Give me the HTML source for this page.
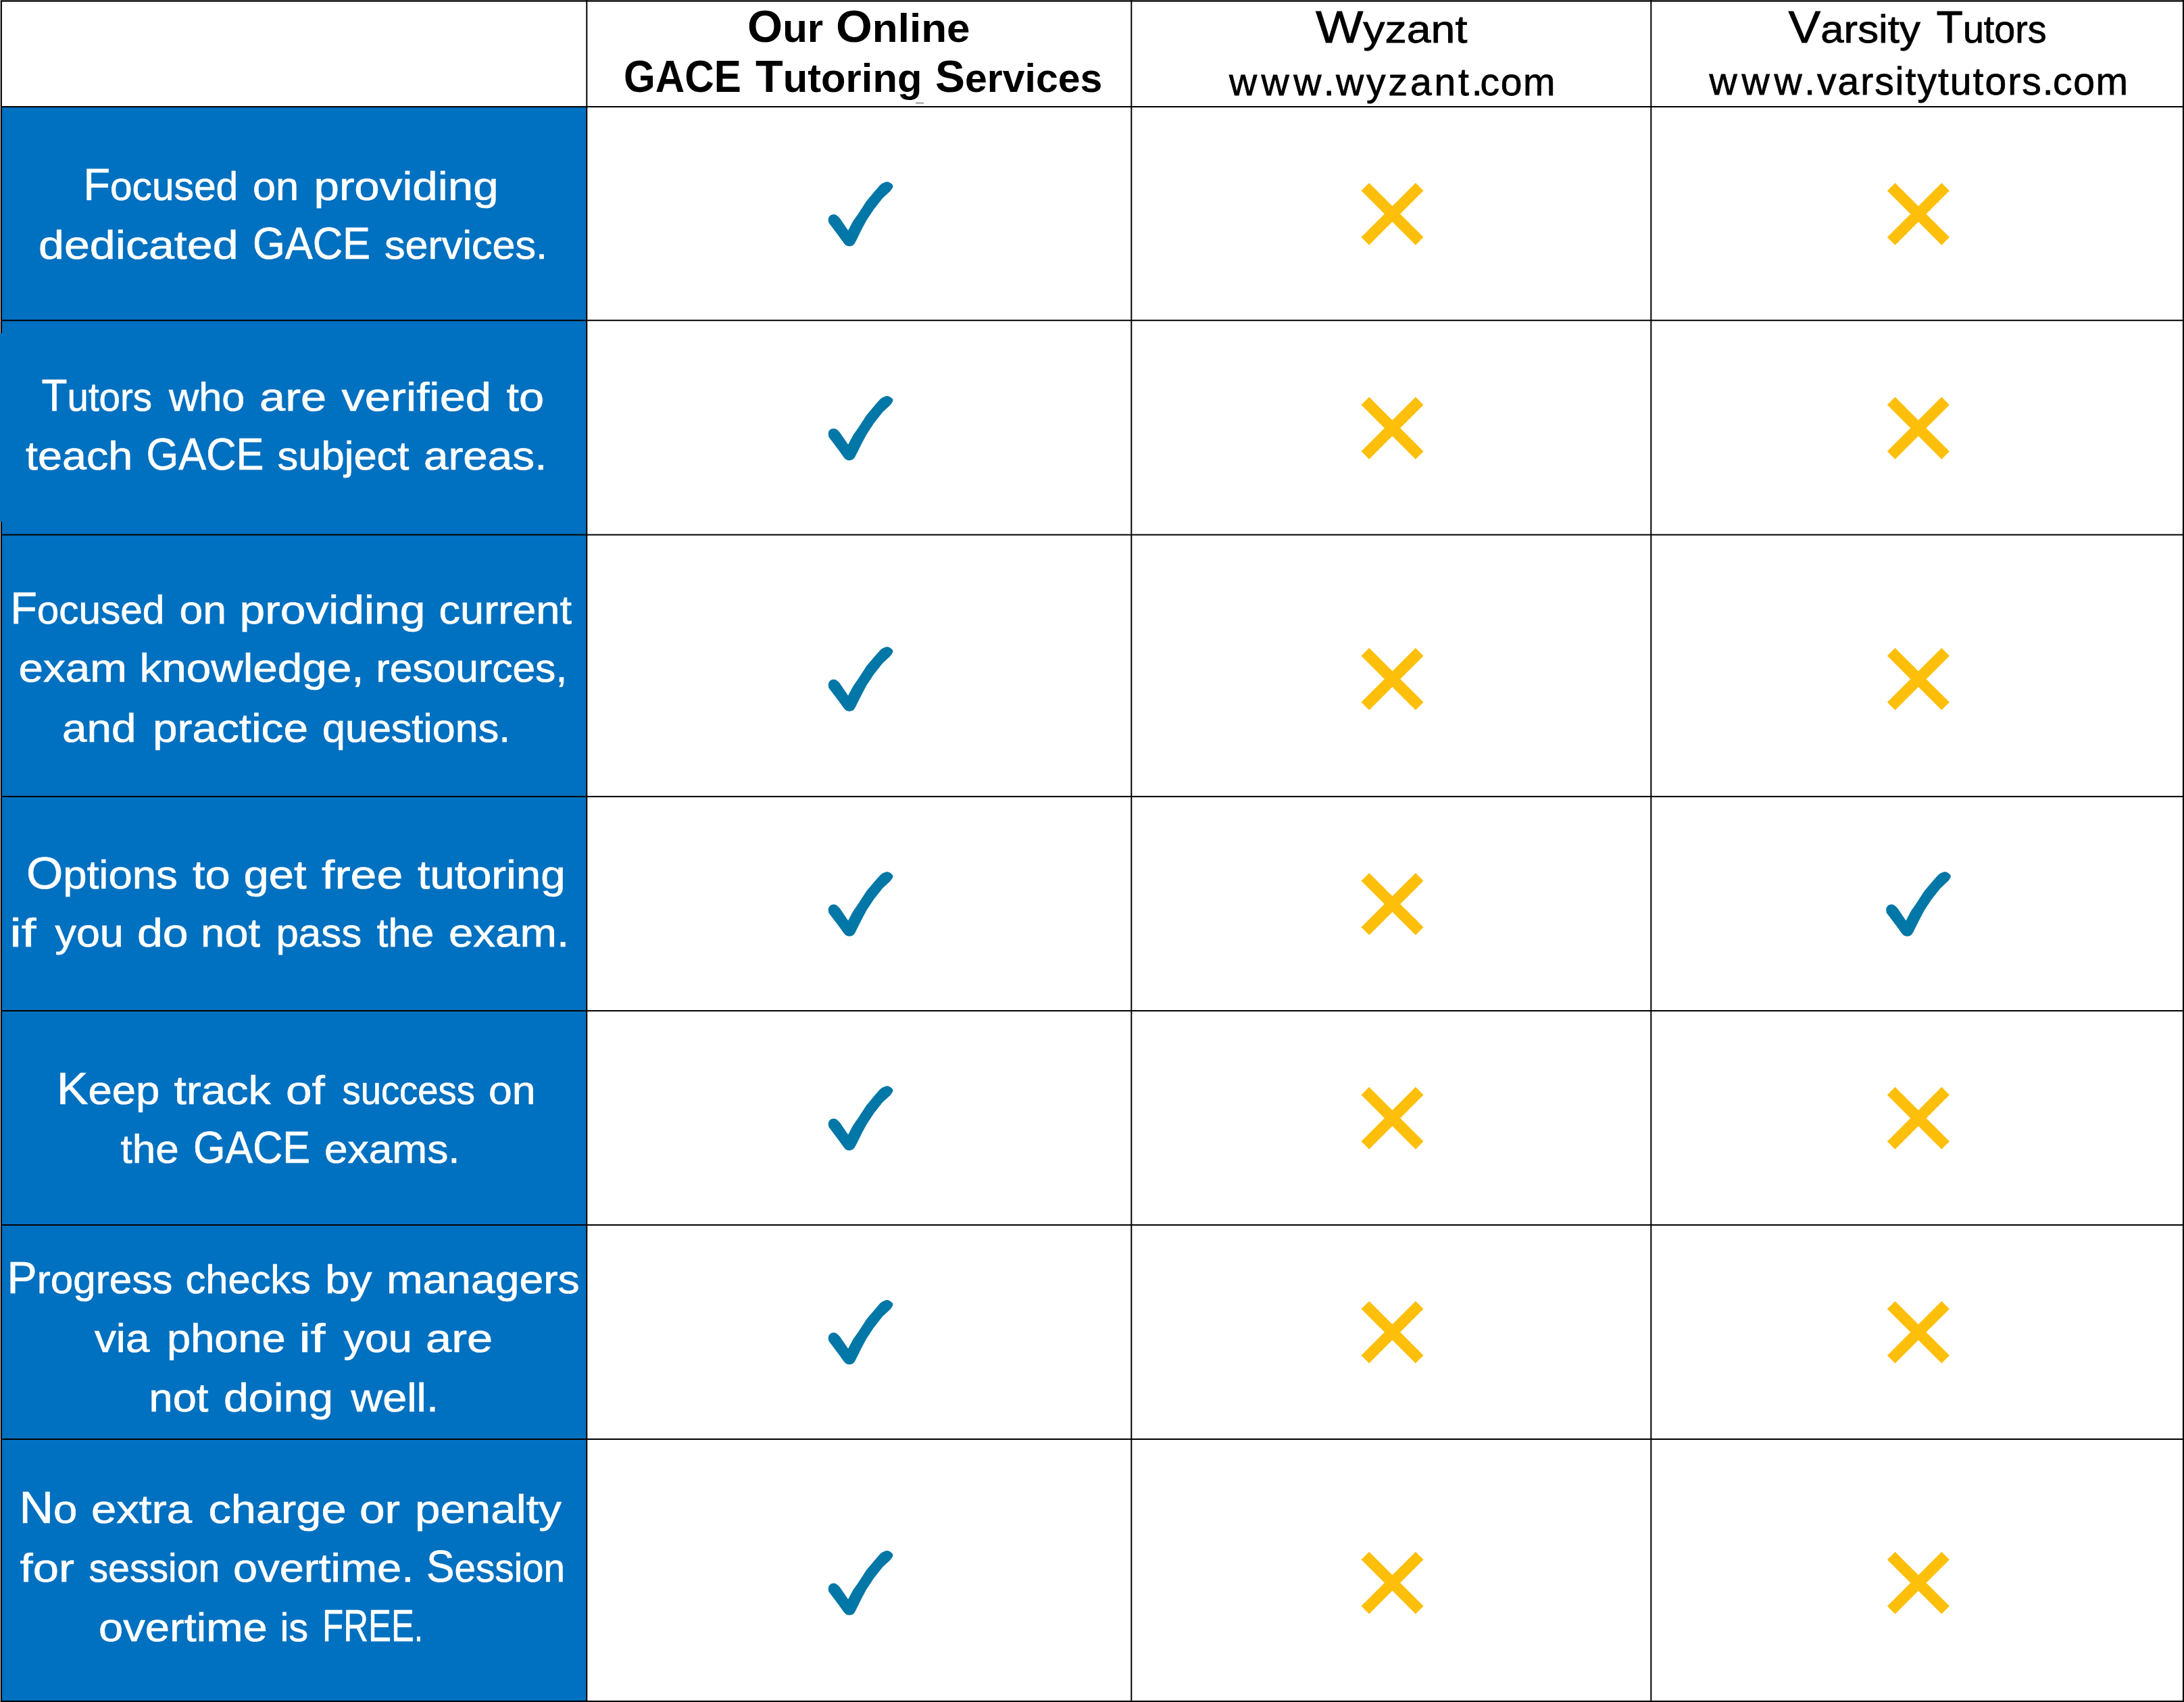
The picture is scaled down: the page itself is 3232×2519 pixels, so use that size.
<!DOCTYPE html>
<html><head><meta charset="utf-8"><title>GACE Tutoring Comparison</title><style>
html,body{margin:0;padding:0;background:#fff;width:3232px;height:2519px;overflow:hidden}
svg{display:block;font-family:"Liberation Sans",sans-serif}
</style></head><body>
<svg width="3232" height="2519" viewBox="0 0 3232 2519">
<rect width="3232" height="2519" fill="#fff"/>
<rect x="0" y="158" width="868.3" height="2359.5" fill="#0070C0"/>
<rect x="867.30" y="0" width="2" height="2519"/>
<rect x="1673.30" y="0" width="2" height="2519"/>
<rect x="2442.30" y="0" width="2" height="2519"/>
<rect x="0" y="157.00" width="3232" height="2"/>
<rect x="0" y="473.20" width="3232" height="2"/>
<rect x="0" y="790.50" width="3232" height="2"/>
<rect x="0" y="1177.90" width="3232" height="2"/>
<rect x="0" y="1495.00" width="3232" height="2"/>
<rect x="0" y="1812.00" width="3232" height="2"/>
<rect x="0" y="2129.00" width="3232" height="2"/>
<rect x="0" y="0" width="1" height="2519" fill="#d0d0d0"/>
<rect x="0.9" y="1" width="2" height="2518"/>
<rect x="0.9" y="0.3" width="3232" height="2.3"/>
<rect x="3229.9" y="0" width="2.1" height="2519"/>
<rect x="0.9" y="2516.9" width="3232" height="2.1"/>
<rect x="1355" y="151.8" width="12" height="1.4" fill="#777"/>
<rect x="0" y="493" width="4" height="279" fill="#0070C0"/>
<path transform="translate(1225.50,268.70)" d="M0.8,60.9 L0.2,55.5 Q0.5,52 4,49.5 L7.5,48.6 Q11,48.3 14,51 L17.3,54.3 L29.6,72.4 L37,58.4 L44.5,47.7 L56.8,28.8 L69.9,13.2 L77.3,4.9 Q83,0.3 88,0.3 Q93,1.5 95.8,5.5 L95.8,8.5 L92.1,14 L80.5,24.7 L67.5,41.2 L56.8,57.6 L50.2,69.9 L40.3,89.7 Q37.5,95.5 32,95.8 Q26.5,95.6 23.9,92.1 L15.6,80.6 Z" fill="#0077A6"/>
<path d="M2020.30,276.50L2100.70,356.90M2100.70,276.50L2020.30,356.90" stroke="#FDBF0A" stroke-width="16.5" fill="none"/>
<path d="M2798.70,276.50L2879.10,356.90M2879.10,276.50L2798.70,356.90" stroke="#FDBF0A" stroke-width="16.5" fill="none"/>
<path transform="translate(1225.50,585.60)" d="M0.8,60.9 L0.2,55.5 Q0.5,52 4,49.5 L7.5,48.6 Q11,48.3 14,51 L17.3,54.3 L29.6,72.4 L37,58.4 L44.5,47.7 L56.8,28.8 L69.9,13.2 L77.3,4.9 Q83,0.3 88,0.3 Q93,1.5 95.8,5.5 L95.8,8.5 L92.1,14 L80.5,24.7 L67.5,41.2 L56.8,57.6 L50.2,69.9 L40.3,89.7 Q37.5,95.5 32,95.8 Q26.5,95.6 23.9,92.1 L15.6,80.6 Z" fill="#0077A6"/>
<path d="M2020.30,593.40L2100.70,673.80M2100.70,593.40L2020.30,673.80" stroke="#FDBF0A" stroke-width="16.5" fill="none"/>
<path d="M2798.70,593.40L2879.10,673.80M2879.10,593.40L2798.70,673.80" stroke="#FDBF0A" stroke-width="16.5" fill="none"/>
<path transform="translate(1225.50,957.00)" d="M0.8,60.9 L0.2,55.5 Q0.5,52 4,49.5 L7.5,48.6 Q11,48.3 14,51 L17.3,54.3 L29.6,72.4 L37,58.4 L44.5,47.7 L56.8,28.8 L69.9,13.2 L77.3,4.9 Q83,0.3 88,0.3 Q93,1.5 95.8,5.5 L95.8,8.5 L92.1,14 L80.5,24.7 L67.5,41.2 L56.8,57.6 L50.2,69.9 L40.3,89.7 Q37.5,95.5 32,95.8 Q26.5,95.6 23.9,92.1 L15.6,80.6 Z" fill="#0077A6"/>
<path d="M2020.30,964.80L2100.70,1045.20M2100.70,964.80L2020.30,1045.20" stroke="#FDBF0A" stroke-width="16.5" fill="none"/>
<path d="M2798.70,964.80L2879.10,1045.20M2879.10,964.80L2798.70,1045.20" stroke="#FDBF0A" stroke-width="16.5" fill="none"/>
<path transform="translate(1225.50,1290.00)" d="M0.8,60.9 L0.2,55.5 Q0.5,52 4,49.5 L7.5,48.6 Q11,48.3 14,51 L17.3,54.3 L29.6,72.4 L37,58.4 L44.5,47.7 L56.8,28.8 L69.9,13.2 L77.3,4.9 Q83,0.3 88,0.3 Q93,1.5 95.8,5.5 L95.8,8.5 L92.1,14 L80.5,24.7 L67.5,41.2 L56.8,57.6 L50.2,69.9 L40.3,89.7 Q37.5,95.5 32,95.8 Q26.5,95.6 23.9,92.1 L15.6,80.6 Z" fill="#0077A6"/>
<path d="M2020.30,1297.80L2100.70,1378.20M2100.70,1297.80L2020.30,1378.20" stroke="#FDBF0A" stroke-width="16.5" fill="none"/>
<path transform="translate(2790.90,1290.00)" d="M0.8,60.9 L0.2,55.5 Q0.5,52 4,49.5 L7.5,48.6 Q11,48.3 14,51 L17.3,54.3 L29.6,72.4 L37,58.4 L44.5,47.7 L56.8,28.8 L69.9,13.2 L77.3,4.9 Q83,0.3 88,0.3 Q93,1.5 95.8,5.5 L95.8,8.5 L92.1,14 L80.5,24.7 L67.5,41.2 L56.8,57.6 L50.2,69.9 L40.3,89.7 Q37.5,95.5 32,95.8 Q26.5,95.6 23.9,92.1 L15.6,80.6 Z" fill="#0077A6"/>
<path transform="translate(1225.50,1606.90)" d="M0.8,60.9 L0.2,55.5 Q0.5,52 4,49.5 L7.5,48.6 Q11,48.3 14,51 L17.3,54.3 L29.6,72.4 L37,58.4 L44.5,47.7 L56.8,28.8 L69.9,13.2 L77.3,4.9 Q83,0.3 88,0.3 Q93,1.5 95.8,5.5 L95.8,8.5 L92.1,14 L80.5,24.7 L67.5,41.2 L56.8,57.6 L50.2,69.9 L40.3,89.7 Q37.5,95.5 32,95.8 Q26.5,95.6 23.9,92.1 L15.6,80.6 Z" fill="#0077A6"/>
<path d="M2020.30,1614.70L2100.70,1695.10M2100.70,1614.70L2020.30,1695.10" stroke="#FDBF0A" stroke-width="16.5" fill="none"/>
<path d="M2798.70,1614.70L2879.10,1695.10M2879.10,1614.70L2798.70,1695.10" stroke="#FDBF0A" stroke-width="16.5" fill="none"/>
<path transform="translate(1225.50,1923.70)" d="M0.8,60.9 L0.2,55.5 Q0.5,52 4,49.5 L7.5,48.6 Q11,48.3 14,51 L17.3,54.3 L29.6,72.4 L37,58.4 L44.5,47.7 L56.8,28.8 L69.9,13.2 L77.3,4.9 Q83,0.3 88,0.3 Q93,1.5 95.8,5.5 L95.8,8.5 L92.1,14 L80.5,24.7 L67.5,41.2 L56.8,57.6 L50.2,69.9 L40.3,89.7 Q37.5,95.5 32,95.8 Q26.5,95.6 23.9,92.1 L15.6,80.6 Z" fill="#0077A6"/>
<path d="M2020.30,1931.50L2100.70,2011.90M2100.70,1931.50L2020.30,2011.90" stroke="#FDBF0A" stroke-width="16.5" fill="none"/>
<path d="M2798.70,1931.50L2879.10,2011.90M2879.10,1931.50L2798.70,2011.90" stroke="#FDBF0A" stroke-width="16.5" fill="none"/>
<path transform="translate(1225.50,2294.70)" d="M0.8,60.9 L0.2,55.5 Q0.5,52 4,49.5 L7.5,48.6 Q11,48.3 14,51 L17.3,54.3 L29.6,72.4 L37,58.4 L44.5,47.7 L56.8,28.8 L69.9,13.2 L77.3,4.9 Q83,0.3 88,0.3 Q93,1.5 95.8,5.5 L95.8,8.5 L92.1,14 L80.5,24.7 L67.5,41.2 L56.8,57.6 L50.2,69.9 L40.3,89.7 Q37.5,95.5 32,95.8 Q26.5,95.6 23.9,92.1 L15.6,80.6 Z" fill="#0077A6"/>
<path d="M2020.30,2302.50L2100.70,2382.90M2100.70,2302.50L2020.30,2382.90" stroke="#FDBF0A" stroke-width="16.5" fill="none"/>
<path d="M2798.70,2302.50L2879.10,2382.90M2879.10,2302.50L2798.70,2382.90" stroke="#FDBF0A" stroke-width="16.5" fill="none"/>
<text x="1106.00" y="62.40" font-size="60" font-weight="bold" fill="#000" textLength="112.25" lengthAdjust="spacingAndGlyphs"><tspan font-size="67">O</tspan>ur</text>
<text x="1237.00" y="62.40" font-size="60" font-weight="bold" fill="#000" textLength="198.61" lengthAdjust="spacingAndGlyphs"><tspan font-size="67">O</tspan>nline</text>
<text x="923.00" y="135.50" font-size="60" font-weight="bold" fill="#000" textLength="173.75" lengthAdjust="spacingAndGlyphs"><tspan font-size="67">GACE</tspan></text>
<text x="1118.00" y="135.50" font-size="60" font-weight="bold" fill="#000" textLength="246.37" lengthAdjust="spacingAndGlyphs"><tspan font-size="67">T</tspan>utoring</text>
<text x="1384.00" y="135.50" font-size="60" font-weight="bold" fill="#000" textLength="247.33" lengthAdjust="spacingAndGlyphs"><tspan font-size="67">S</tspan>ervices</text>
<text x="1947.00" y="62.90" font-size="57" fill="#000" stroke="#000" stroke-width="0.8" textLength="224.31" lengthAdjust="spacingAndGlyphs"><tspan font-size="66">W</tspan>yzant</text>
<text x="1819.00" y="140.70" font-size="57" fill="#000" stroke="#000" stroke-width="0.8" textLength="155.57" lengthAdjust="spacing">www.</text>
<text x="1977.00" y="140.70" font-size="57" fill="#000" stroke="#000" stroke-width="0.8" textLength="216.69" lengthAdjust="spacing">wyzant.</text>
<text x="2190.50" y="140.70" font-size="57" fill="#000" stroke="#000" stroke-width="0.8" textLength="111.01" lengthAdjust="spacing">com</text>
<text x="2646.50" y="63.00" font-size="57" fill="#000" stroke="#000" stroke-width="0.8" textLength="195.40" lengthAdjust="spacingAndGlyphs"><tspan font-size="66">V</tspan>arsity</text>
<text x="2865.50" y="63.00" font-size="57" fill="#000" stroke="#000" stroke-width="0.8" textLength="163.22" lengthAdjust="spacingAndGlyphs"><tspan font-size="66">T</tspan>utors</text>
<text x="2529.50" y="140.40" font-size="57" fill="#000" stroke="#000" stroke-width="0.8" textLength="156.55" lengthAdjust="spacing">www.</text>
<text x="2689.00" y="140.40" font-size="57" fill="#000" stroke="#000" stroke-width="0.8" textLength="349.63" lengthAdjust="spacing">varsitytutors.</text>
<text x="3038.00" y="140.40" font-size="57" fill="#000" stroke="#000" stroke-width="0.8" textLength="111.05" lengthAdjust="spacing">com</text>
<text x="123.50" y="296.40" font-size="60" fill="#fff" stroke="#fff" stroke-width="0.7" textLength="228.75" lengthAdjust="spacingAndGlyphs"><tspan font-size="66">F</tspan>ocused</text>
<text x="374.00" y="296.40" font-size="60" fill="#fff" stroke="#fff" stroke-width="0.7" textLength="68.16" lengthAdjust="spacingAndGlyphs">on</text>
<text x="464.50" y="296.40" font-size="60" fill="#fff" stroke="#fff" stroke-width="0.7" textLength="273.11" lengthAdjust="spacingAndGlyphs">providing</text>
<text x="57.00" y="383.00" font-size="60" fill="#fff" stroke="#fff" stroke-width="0.7" textLength="295.64" lengthAdjust="spacingAndGlyphs">dedicated</text>
<text x="374.00" y="383.00" font-size="60" fill="#fff" stroke="#fff" stroke-width="0.7" textLength="173.99" lengthAdjust="spacingAndGlyphs"><tspan font-size="66">GACE</tspan></text>
<text x="569.00" y="383.00" font-size="60" fill="#fff" stroke="#fff" stroke-width="0.7" textLength="241.04" lengthAdjust="spacingAndGlyphs">services.</text>
<text x="61.50" y="607.70" font-size="60" fill="#fff" stroke="#fff" stroke-width="0.7" textLength="163.59" lengthAdjust="spacingAndGlyphs"><tspan font-size="66">T</tspan>utors</text>
<text x="249.99" y="607.70" font-size="60" fill="#fff" stroke="#fff" stroke-width="0.7" textLength="112.25" lengthAdjust="spacingAndGlyphs">who</text>
<text x="384.00" y="607.70" font-size="60" fill="#fff" stroke="#fff" stroke-width="0.7" textLength="99.11" lengthAdjust="spacingAndGlyphs">are</text>
<text x="505.50" y="607.70" font-size="60" fill="#fff" stroke="#fff" stroke-width="0.7" textLength="221.59" lengthAdjust="spacingAndGlyphs">verified</text>
<text x="749.50" y="607.70" font-size="60" fill="#fff" stroke="#fff" stroke-width="0.7" textLength="55.73" lengthAdjust="spacingAndGlyphs">to</text>
<text x="38.00" y="694.60" font-size="60" fill="#fff" stroke="#fff" stroke-width="0.7" textLength="158.35" lengthAdjust="spacingAndGlyphs">teach</text>
<text x="216.50" y="694.60" font-size="60" fill="#fff" stroke="#fff" stroke-width="0.7" textLength="173.97" lengthAdjust="spacingAndGlyphs"><tspan font-size="66">GACE</tspan></text>
<text x="410.50" y="694.60" font-size="60" fill="#fff" stroke="#fff" stroke-width="0.7" textLength="194.97" lengthAdjust="spacingAndGlyphs">subject</text>
<text x="627.00" y="694.60" font-size="60" fill="#fff" stroke="#fff" stroke-width="0.7" textLength="182.39" lengthAdjust="spacingAndGlyphs">areas.</text>
<text x="15.50" y="922.90" font-size="60" fill="#fff" stroke="#fff" stroke-width="0.7" textLength="227.81" lengthAdjust="spacingAndGlyphs"><tspan font-size="66">F</tspan>ocused</text>
<text x="265.50" y="922.90" font-size="60" fill="#fff" stroke="#fff" stroke-width="0.7" textLength="69.52" lengthAdjust="spacingAndGlyphs">on</text>
<text x="354.50" y="922.90" font-size="60" fill="#fff" stroke="#fff" stroke-width="0.7" textLength="274.99" lengthAdjust="spacingAndGlyphs">providing</text>
<text x="649.50" y="922.90" font-size="60" fill="#fff" stroke="#fff" stroke-width="0.7" textLength="196.46" lengthAdjust="spacingAndGlyphs">current</text>
<text x="27.50" y="1009.30" font-size="60" fill="#fff" stroke="#fff" stroke-width="0.7" textLength="160.46" lengthAdjust="spacingAndGlyphs">exam</text>
<text x="206.50" y="1009.30" font-size="60" fill="#fff" stroke="#fff" stroke-width="0.7" textLength="331.99" lengthAdjust="spacingAndGlyphs">knowledge,</text>
<text x="556.50" y="1009.30" font-size="60" fill="#fff" stroke="#fff" stroke-width="0.7" textLength="282.72" lengthAdjust="spacingAndGlyphs">resources,</text>
<text x="92.00" y="1097.80" font-size="60" fill="#fff" stroke="#fff" stroke-width="0.7" textLength="109.51" lengthAdjust="spacingAndGlyphs">and</text>
<text x="226.00" y="1097.80" font-size="60" fill="#fff" stroke="#fff" stroke-width="0.7" textLength="229.96" lengthAdjust="spacingAndGlyphs">practice</text>
<text x="477.00" y="1097.80" font-size="60" fill="#fff" stroke="#fff" stroke-width="0.7" textLength="278.19" lengthAdjust="spacingAndGlyphs">questions.</text>
<text x="39.00" y="1314.80" font-size="60" fill="#fff" stroke="#fff" stroke-width="0.7" textLength="223.78" lengthAdjust="spacingAndGlyphs"><tspan font-size="66">O</tspan>ptions</text>
<text x="285.00" y="1314.80" font-size="60" fill="#fff" stroke="#fff" stroke-width="0.7" textLength="55.75" lengthAdjust="spacingAndGlyphs">to</text>
<text x="360.50" y="1314.80" font-size="60" fill="#fff" stroke="#fff" stroke-width="0.7" textLength="93.02" lengthAdjust="spacingAndGlyphs">get</text>
<text x="476.00" y="1314.80" font-size="60" fill="#fff" stroke="#fff" stroke-width="0.7" textLength="120.18" lengthAdjust="spacingAndGlyphs">free</text>
<text x="618.00" y="1314.80" font-size="60" fill="#fff" stroke="#fff" stroke-width="0.7" textLength="218.69" lengthAdjust="spacingAndGlyphs">tutoring</text>
<text x="14.50" y="1401.40" font-size="60" fill="#fff" stroke="#fff" stroke-width="0.7" textLength="39.08" lengthAdjust="spacingAndGlyphs">if</text>
<text x="81.50" y="1401.40" font-size="60" fill="#fff" stroke="#fff" stroke-width="0.7" textLength="101.31" lengthAdjust="spacingAndGlyphs">you</text>
<text x="203.00" y="1401.40" font-size="60" fill="#fff" stroke="#fff" stroke-width="0.7" textLength="75.66" lengthAdjust="spacingAndGlyphs">do</text>
<text x="297.00" y="1401.40" font-size="60" fill="#fff" stroke="#fff" stroke-width="0.7" textLength="88.01" lengthAdjust="spacingAndGlyphs">not</text>
<text x="408.50" y="1401.40" font-size="60" fill="#fff" stroke="#fff" stroke-width="0.7" textLength="126.64" lengthAdjust="spacingAndGlyphs">pass</text>
<text x="557.50" y="1401.40" font-size="60" fill="#fff" stroke="#fff" stroke-width="0.7" textLength="84.74" lengthAdjust="spacingAndGlyphs">the</text>
<text x="664.00" y="1401.40" font-size="60" fill="#fff" stroke="#fff" stroke-width="0.7" textLength="178.06" lengthAdjust="spacingAndGlyphs">exam.</text>
<text x="84.00" y="1634.40" font-size="60" fill="#fff" stroke="#fff" stroke-width="0.7" textLength="152.33" lengthAdjust="spacingAndGlyphs"><tspan font-size="66">K</tspan>eep</text>
<text x="257.50" y="1634.40" font-size="60" fill="#fff" stroke="#fff" stroke-width="0.7" textLength="143.15" lengthAdjust="spacingAndGlyphs">track</text>
<text x="423.00" y="1634.40" font-size="60" fill="#fff" stroke="#fff" stroke-width="0.7" textLength="57.85" lengthAdjust="spacingAndGlyphs">of</text>
<text x="506.50" y="1634.40" font-size="60" fill="#fff" stroke="#fff" stroke-width="0.7" textLength="196.40" lengthAdjust="spacingAndGlyphs">success</text>
<text x="723.00" y="1634.40" font-size="60" fill="#fff" stroke="#fff" stroke-width="0.7" textLength="69.58" lengthAdjust="spacingAndGlyphs">on</text>
<text x="178.50" y="1721.40" font-size="60" fill="#fff" stroke="#fff" stroke-width="0.7" textLength="86.14" lengthAdjust="spacingAndGlyphs">the</text>
<text x="286.00" y="1721.40" font-size="60" fill="#fff" stroke="#fff" stroke-width="0.7" textLength="172.95" lengthAdjust="spacingAndGlyphs"><tspan font-size="66">GACE</tspan></text>
<text x="480.00" y="1721.40" font-size="60" fill="#fff" stroke="#fff" stroke-width="0.7" textLength="200.63" lengthAdjust="spacingAndGlyphs">exams.</text>
<text x="10.50" y="1914.20" font-size="60" fill="#fff" stroke="#fff" stroke-width="0.7" textLength="244.85" lengthAdjust="spacingAndGlyphs"><tspan font-size="66">P</tspan>rogress</text>
<text x="274.50" y="1914.20" font-size="60" fill="#fff" stroke="#fff" stroke-width="0.7" textLength="185.30" lengthAdjust="spacingAndGlyphs">checks</text>
<text x="481.00" y="1914.20" font-size="60" fill="#fff" stroke="#fff" stroke-width="0.7" textLength="69.51" lengthAdjust="spacingAndGlyphs">by</text>
<text x="572.00" y="1914.20" font-size="60" fill="#fff" stroke="#fff" stroke-width="0.7" textLength="285.72" lengthAdjust="spacingAndGlyphs">managers</text>
<text x="140.00" y="2001.40" font-size="60" fill="#fff" stroke="#fff" stroke-width="0.7" textLength="81.24" lengthAdjust="spacingAndGlyphs">via</text>
<text x="247.00" y="2001.40" font-size="60" fill="#fff" stroke="#fff" stroke-width="0.7" textLength="175.73" lengthAdjust="spacingAndGlyphs">phone</text>
<text x="442.50" y="2001.40" font-size="60" fill="#fff" stroke="#fff" stroke-width="0.7" textLength="39.06" lengthAdjust="spacingAndGlyphs">if</text>
<text x="508.50" y="2001.40" font-size="60" fill="#fff" stroke="#fff" stroke-width="0.7" textLength="101.31" lengthAdjust="spacingAndGlyphs">you</text>
<text x="630.00" y="2001.40" font-size="60" fill="#fff" stroke="#fff" stroke-width="0.7" textLength="99.17" lengthAdjust="spacingAndGlyphs">are</text>
<text x="220.50" y="2089.00" font-size="60" fill="#fff" stroke="#fff" stroke-width="0.7" textLength="87.88" lengthAdjust="spacingAndGlyphs">not</text>
<text x="331.00" y="2089.00" font-size="60" fill="#fff" stroke="#fff" stroke-width="0.7" textLength="162.08" lengthAdjust="spacingAndGlyphs">doing</text>
<text x="519.53" y="2089.00" font-size="60" fill="#fff" stroke="#fff" stroke-width="0.7" textLength="129.34" lengthAdjust="spacingAndGlyphs">well.</text>
<text x="28.50" y="2254.20" font-size="60" fill="#fff" stroke="#fff" stroke-width="0.7" textLength="85.86" lengthAdjust="spacingAndGlyphs"><tspan font-size="66">N</tspan>o</text>
<text x="135.00" y="2254.20" font-size="60" fill="#fff" stroke="#fff" stroke-width="0.7" textLength="149.05" lengthAdjust="spacingAndGlyphs">extra</text>
<text x="308.50" y="2254.20" font-size="60" fill="#fff" stroke="#fff" stroke-width="0.7" textLength="204.03" lengthAdjust="spacingAndGlyphs">charge</text>
<text x="532.00" y="2254.20" font-size="60" fill="#fff" stroke="#fff" stroke-width="0.7" textLength="60.07" lengthAdjust="spacingAndGlyphs">or</text>
<text x="614.00" y="2254.20" font-size="60" fill="#fff" stroke="#fff" stroke-width="0.7" textLength="216.97" lengthAdjust="spacingAndGlyphs">penalty</text>
<text x="29.50" y="2341.40" font-size="60" fill="#fff" stroke="#fff" stroke-width="0.7" textLength="80.42" lengthAdjust="spacingAndGlyphs">for</text>
<text x="131.50" y="2341.40" font-size="60" fill="#fff" stroke="#fff" stroke-width="0.7" textLength="193.88" lengthAdjust="spacingAndGlyphs">session</text>
<text x="345.00" y="2341.40" font-size="60" fill="#fff" stroke="#fff" stroke-width="0.7" textLength="267.31" lengthAdjust="spacingAndGlyphs">overtime.</text>
<text x="631.00" y="2341.40" font-size="60" fill="#fff" stroke="#fff" stroke-width="0.7" textLength="204.92" lengthAdjust="spacingAndGlyphs"><tspan font-size="66">S</tspan>ession</text>
<text x="146.00" y="2429.00" font-size="60" fill="#fff" stroke="#fff" stroke-width="0.7" textLength="249.60" lengthAdjust="spacingAndGlyphs">overtime</text>
<text x="414.50" y="2429.00" font-size="60" fill="#fff" stroke="#fff" stroke-width="0.7" textLength="41.70" lengthAdjust="spacingAndGlyphs">is</text>
<text x="477.00" y="2429.00" font-size="60" fill="#fff" stroke="#fff" stroke-width="0.7" textLength="148.85" lengthAdjust="spacingAndGlyphs"><tspan font-size="66">FREE</tspan>.</text>
</svg>
</body></html>
